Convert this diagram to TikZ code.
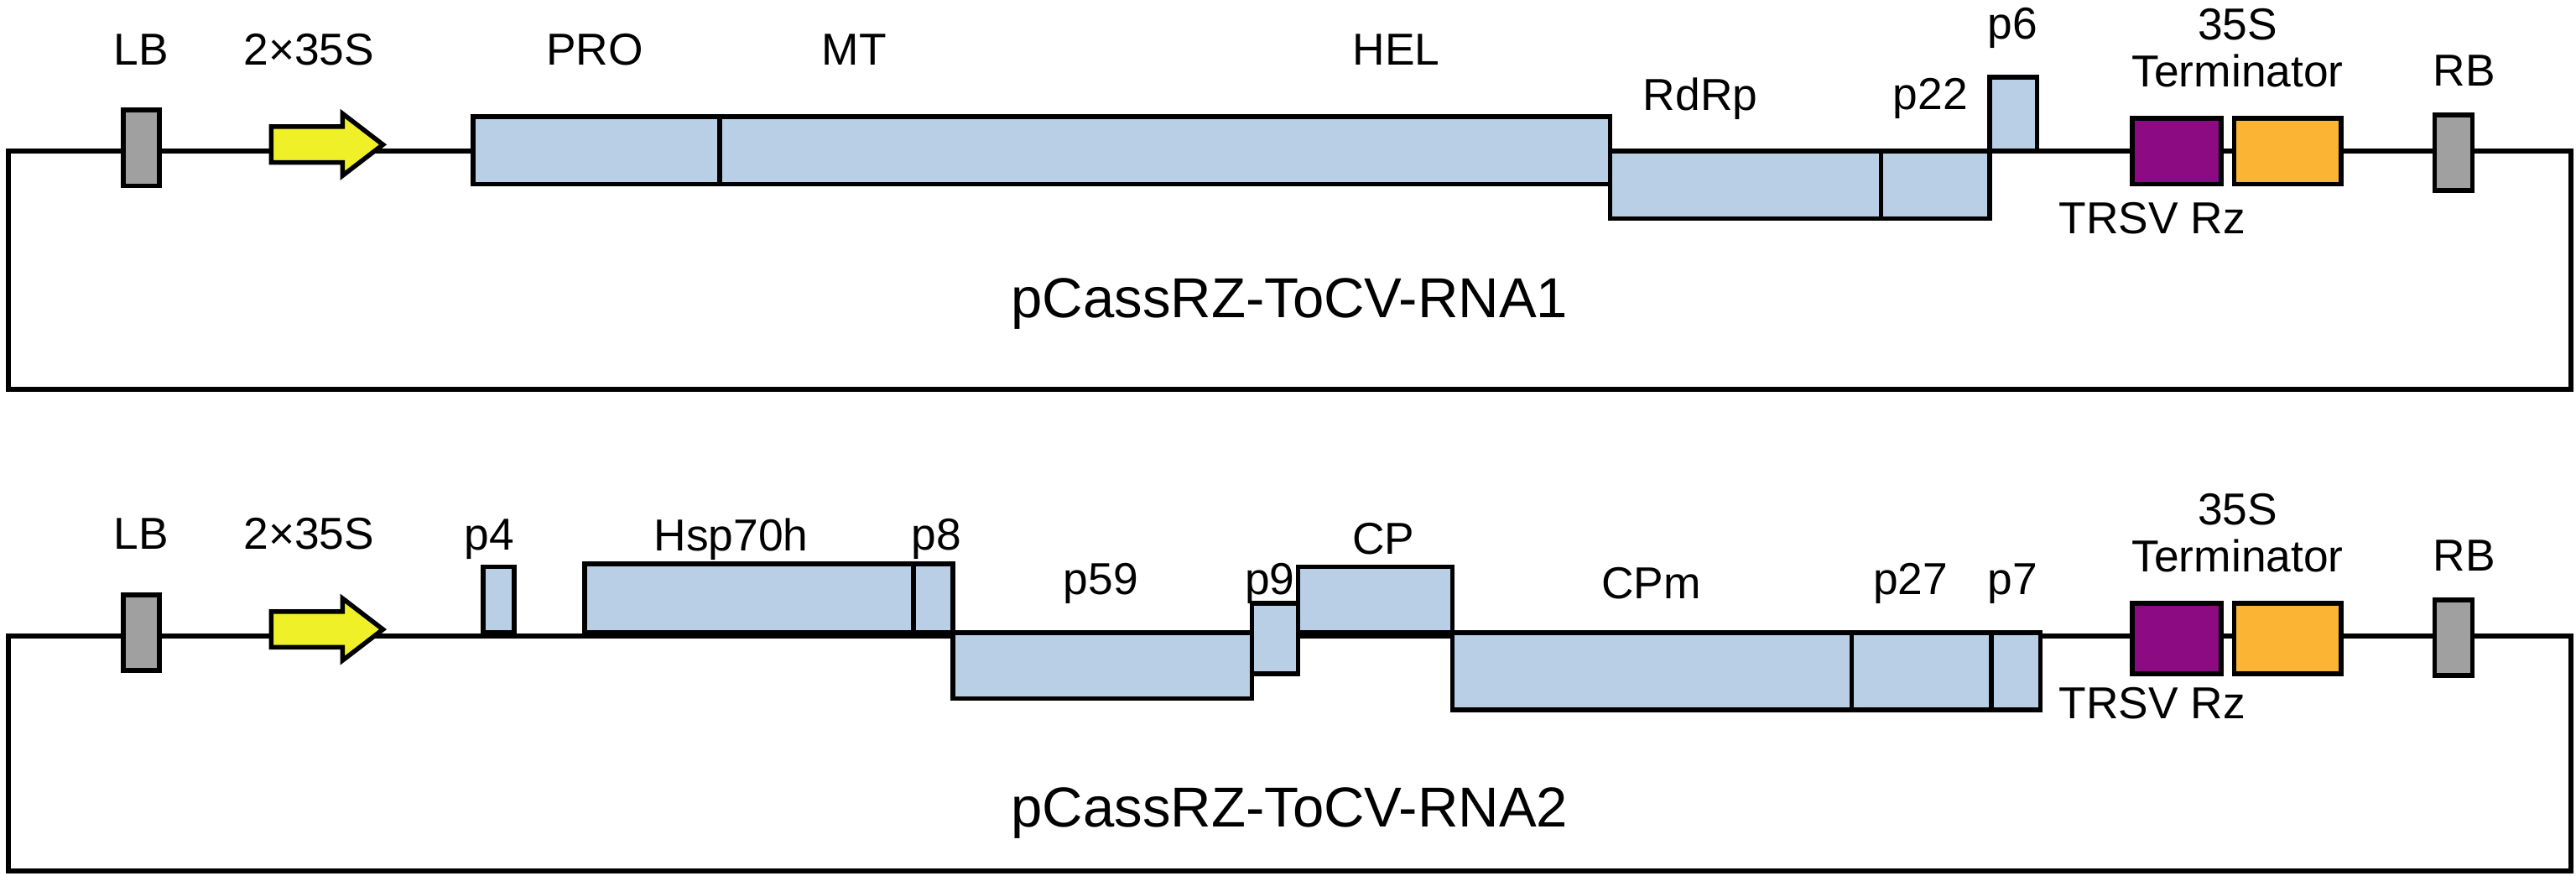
\documentclass[tikz,border=0pt]{standalone}
\usepackage{fontspec}
\setmainfont{Liberation Sans}
\usetikzlibrary{shapes.arrows}

\definecolor{genefill}{RGB}{184,207,230}
\definecolor{trsvfill}{RGB}{140,10,130}
\definecolor{rzfill}{RGB}{251,180,52}
\definecolor{bordfill}{RGB}{160,160,160}
\definecolor{promfill}{RGB}{240,240,40}

% element with corners (x1,y1) and (x2,y2), in reference pixels
\newcommand{\seg}[6]{%
  \node[box, fill=#6, minimum width={(#4-#2)*0.02cm}, minimum height={(#5-#3)*0.02cm}]
    (#1) at ({(#2+#4)/2},{(#3+#5)/2}) {};}

\begin{document}
\begin{tikzpicture}[
  x=0.02cm, y=-0.02cm,
  box/.style={rectangle, draw, line width=1.6pt, inner sep=0pt},
  lbl/.style={font=\fontsize{15.5}{18}\selectfont, inner sep=0pt},
  plasmid/.style={font=\fontsize{19.5}{22}\selectfont, inner sep=0pt},
  prom/.style={single arrow, draw, line width=1.6pt, fill=promfill, inner sep=0.19cm,
    minimum height=1.36cm, single arrow head extend=0.16cm, single arrow tip angle=75,
    single arrow head indent=0pt},
  line/.style={line width=1.6pt},
]
\useasboundingbox (0,0) rectangle (1568,533);

% RNA1
\coordinate (l1) at (5,92);
\coordinate (r1) at (1565,92);
\draw[line] (l1) -- (r1) -- (1565,237) -- (5,237) -- cycle;
\seg{lb1}{75}{67}{97}{113}{bordfill}
\node[prom] (pr1) at (192,88) {};
\seg{pro}{288}{71}{438}{112}{genefill}
\seg{mt}{438}{71}{980}{112}{genefill}
\seg{rdrp}{980}{92}{1145}{133}{genefill}
\seg{p22}{1145}{92}{1211}{133}{genefill}
\seg{p6}{1211}{47}{1240}{92}{genefill}
\seg{trsv1}{1298}{72}{1352}{112}{trsvfill}
\seg{rz1}{1360}{72}{1425}{112}{rzfill}
\seg{rb1}{1482}{70}{1505}{116}{bordfill}
\node[lbl] at (86,30) {LB};
\node[lbl] at (188,30) {2×35S};
\node[lbl] at (362,30) {PRO};
\node[lbl] at (520,30) {MT};
\node[lbl] at (850,30) {HEL};
\node[lbl] at (1035,60) {RdRp};
\node[lbl] at (1175,60) {p22};
\node[lbl] at (1225,17) {p6};
\node[lbl] at (1362,15) {35S};
\node[lbl] at (1362,43) {Terminator};
\node[lbl] at (1500,43) {RB};
\node[lbl] at (1310,133) {TRSV Rz};
\node[plasmid] at (785,185) {pCassRZ-ToCV-RNA1};

% RNA2
\coordinate (l2) at (5,387);
\coordinate (r2) at (1565,387);
\draw[line] (l2) -- (r2) -- (1565,530) -- (5,530) -- cycle;
\seg{lb2}{75}{362}{97}{408}{bordfill}
\node[prom] (pr2) at (192,383) {};
\seg{p4}{294}{345}{313}{385}{genefill}
\seg{hsp}{356}{343}{556}{385}{genefill}
\seg{p8}{556}{343}{580}{385}{genefill}
\seg{p59}{580}{385}{762}{425}{genefill}
\seg{p9}{762}{367}{790}{410}{genefill}
\seg{cp}{790}{345}{884}{385}{genefill}
\seg{cpm}{884}{385}{1127}{432}{genefill}
\seg{p27}{1127}{385}{1212}{432}{genefill}
\seg{p7}{1212}{385}{1242}{432}{genefill}
\seg{trsv2}{1298}{367}{1352}{410}{trsvfill}
\seg{rz2}{1360}{367}{1425}{410}{rzfill}
\seg{rb2}{1482}{365}{1505}{411}{bordfill}
\node[lbl] at (86,325) {LB};
\node[lbl] at (188,325) {2×35S};
\node[lbl] at (298,328) {p4};
\node[lbl] at (445,328) {Hsp70h};
\node[lbl] at (570,328) {p8};
\node[lbl] at (670,355) {p59};
\node[lbl] at (773,355) {p9};
\node[lbl] at (842,328) {CP};
\node[lbl] at (1005,355) {CPm};
\node[lbl] at (1163,355) {p27};
\node[lbl] at (1225,355) {p7};
\node[lbl] at (1362,310) {35S};
\node[lbl] at (1362,338) {Terminator};
\node[lbl] at (1500,338) {RB};
\node[lbl] at (1310,428) {TRSV Rz};
\node[plasmid] at (785,495) {pCassRZ-ToCV-RNA2};
\end{tikzpicture}
\end{document}
